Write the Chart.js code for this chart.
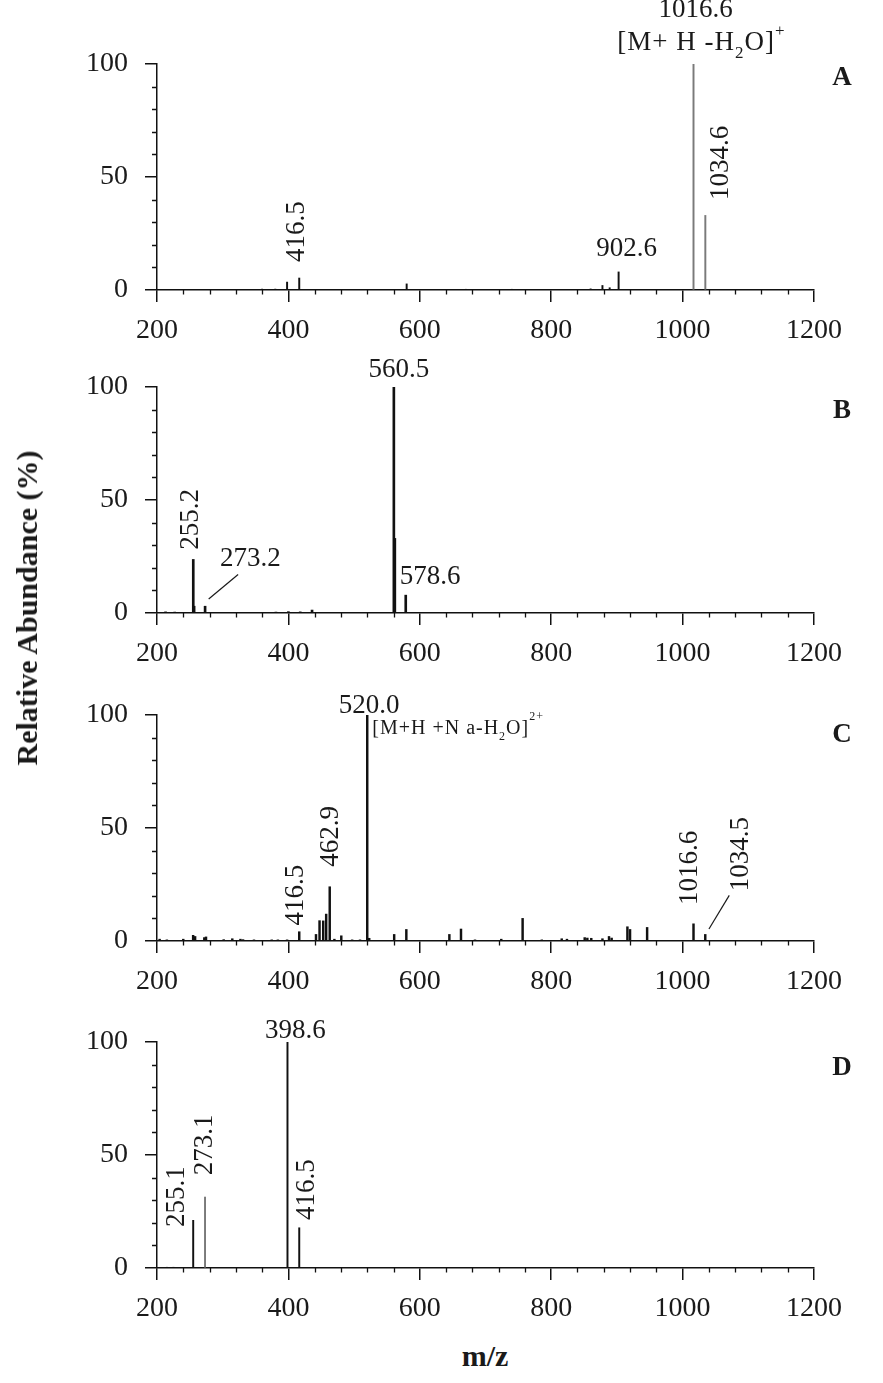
<!DOCTYPE html>
<html>
<head>
<meta charset="utf-8">
<script src="https://cdn.jsdelivr.net/npm/chart.js@4.4.1/dist/chart.umd.min.js"></script>
<style>
body { margin: 0; background: #fff; }
#wrap { position: relative; width: 883px; height: 1383px; overflow: hidden; }
#wrap canvas { position: absolute; left: 0; }
.ttl { position: absolute; font-family: 'Liberation Serif', serif; font-weight: bold; font-size: 30px; color: #1a1a1a; white-space: nowrap; transform: translate(-50%, -50%); }
</style>
</head>
<body>
<div id="wrap">
  <canvas id="cA" width="883" height="350" style="top:0px"></canvas>
  <canvas id="cB" width="883" height="350" style="top:323px"></canvas>
  <canvas id="cC" width="883" height="350" style="top:651px"></canvas>
  <canvas id="cD" width="883" height="350" style="top:978px"></canvas>
  <div class="ttl" style="left:27px; top:608px; transform:translate(-50%,-50%) rotate(-90deg)">Relative Abundance (%)</div>
  <div class="ttl" style="left:485px; top:1356px">m/z</div>
</div>
<script>
// Tick labels
const xTicks = [200, 400, 600, 800, 1000, 1200];
const yTicks = [0, 50, 100];
const panelNames = ['A', 'B', 'C', 'D'];

// Panel A - m/z and relative abundance (%)
const mzA = [360, 380, 398, 416.5, 580, 670, 740, 860, 878, 889, 902.6, 1016.6, 1034.6];
const abA = [0.4, 0.4, 3.5, 5.3, 2.7, 0.3, 0.3, 0.5, 2, 1, 8, 100, 33];

// Panel B
const mzB = [213, 227, 255.2, 256.5, 273.2, 381, 400, 418, 436, 560.5, 562, 578.6];
const abB = [0.5, 0.4, 23.7, 3, 3, 0.4, 0.6, 0.5, 1.3, 100, 33, 7.9];

// Panel C
const mzC = [204, 215, 240, 255, 258, 272, 274.6, 301.5, 314.6, 327, 331, 347.6, 374.6, 384, 398,
  416.5, 442, 447.4, 453, 457.5, 462.9, 470, 480.5, 497, 509, 520.0, 523, 561, 579.5, 645, 662.7,
  684, 724, 756.5, 785.7, 816, 824, 851, 855, 861, 878, 888, 892, 916, 920, 946, 1016.6, 1034.5];
const abC = [0.8, 0.5, 0.8, 2.5, 2, 1.5, 1.8, 0.6, 1, 0.8, 0.6, 0.5, 0.5, 0.5, 0.5,
  4.1, 2.9, 9, 8.9, 11.9, 24, 0.8, 2.3, 0.5, 0.5, 100, 1.2, 2.9, 5.1, 2.9, 5.3,
  0.5, 0.8, 10, 0.5, 1, 0.8, 1.5, 1.3, 1.2, 1, 2, 1.3, 6.3, 5.1, 6, 7.6, 2.9];

// Panel D
const mzD = [215, 225, 255.1, 273.1, 398.6, 416.5];
const abD = [0.3, 0.3, 21.1, 31.4, 100, 17.8];

const FONT = "'Liberation Serif', serif";
const INK = '#1a1a1a';

// labels next to peaks (at = abundance of text anchor, dx = pixel nudge)
const panels = [
  { id: 'cA', mz: mzA, ab: abA, bar: 1.3, gray: [1016.6, 1034.6], letterOff: 21,
    notes: [
      { mz: 1016.6, at: 120.8, dx: 2 },
      { mz: 1016.6, at: 106.2, dx: 8, rich: [{ t: '[M+ H -H' }, { t: '2', dy: 0.3 }, { t: 'O]' }, { t: '+', dy: -0.5 }], size: 27, spacing: 1 },
      { mz: 1034.6, at: 39.8, dx: 16, rot: true },
      { mz: 416.5, at: 12.4, dx: -2, rot: true },
      { mz: 902.6, at: 15, dx: 8 }
    ], leaders: [] },
  { id: 'cB', mz: mzB, ab: abB, bar: 2, gray: [], letterOff: 31,
    notes: [
      { mz: 560.5, at: 104.5, dx: 5 },
      { mz: 255.2, at: 28, dx: -2, rot: true },
      { mz: 273.2, at: 20.8, dx: 15, align: 'left' },
      { mz: 578.6, at: 12.9, dx: -6, align: 'left' }
    ],
    leaders: [{ mz: 273.2, x0: 3.6, y0: 6.2, x1: 33, y1: 17 }] },
  { id: 'cC', mz: mzC, ab: abC, bar: 1.8, gray: [], letterOff: 27,
    notes: [
      { mz: 520.0, at: 101, dx: 2 },
      { mz: 520.0, at: 91.5, dx: 5, align: 'left', rich: [{ t: '[M+H +N a-H' }, { t: '2', dy: 0.3 }, { t: 'O]' }, { t: '2+', dy: -0.7 }], size: 20, spacing: 1 },
      { mz: 416.5, at: 6.9, dx: -3, rot: true },
      { mz: 462.9, at: 32.8, dx: 1, rot: true },
      { mz: 1016.6, at: 15.9, dx: -4, rot: true },
      { mz: 1034.5, at: 22, dx: 36, rot: true }
    ],
    leaders: [{ mz: 1034.5, x0: 3.7, y0: 5.3, x1: 24, y1: 20.2 }] },
  { id: 'cD', mz: mzD, ab: abD, bar: 1.3, gray: [273.1], letterOff: 33,
    notes: [
      { mz: 398.6, at: 101.6, dx: 8 },
      { mz: 255.1, at: 18.1, dx: -16, rot: true },
      { mz: 273.1, at: 41, dx: 0, rot: true },
      { mz: 416.5, at: 21.2, dx: 8, rot: true }
    ], leaders: [] }
];

function drawRich(ctx, segs, x, y, size, align, spacing) {
  ctx.letterSpacing = (spacing || 0) + 'px';
  const parts = segs.map(s => {
    const fs = s.dy ? Math.round(size * 0.62) : size;
    ctx.font = fs + 'px ' + FONT;
    return { t: s.t, fs: fs, w: ctx.measureText(s.t).width, dy: (s.dy || 0) * size };
  });
  const total = parts.reduce((a, p) => a + p.w, 0);
  let cx = align === 'left' ? x : x - total / 2;
  ctx.textAlign = 'left';
  ctx.textBaseline = 'alphabetic';
  parts.forEach(p => {
    ctx.font = p.fs + 'px ' + FONT;
    ctx.fillText(p.t, cx, y + p.dy);
    cx += p.w;
  });
  ctx.letterSpacing = '0px';
}

function makePlugin(p, letter) {
  return {
    id: 'spectrumDeco',
    afterDraw(chart) {
      const ctx = chart.ctx;
      const xs = chart.scales.x, ys = chart.scales.y;
      const area = chart.chartArea;
      ctx.save();
      // minor ticks
      ctx.strokeStyle = '#111';
      ctx.lineWidth = 1.3;
      ctx.beginPath();
      for (let v = 240; v < 1200; v += 40) {
        if (v % 200 === 0) continue;
        const px = Math.round(xs.getPixelForValue(v)) + 0.5;
        ctx.moveTo(px, area.bottom);
        ctx.lineTo(px, area.bottom + 4.5);
      }
      for (let v = 10; v < 100; v += 10) {
        if (v % 50 === 0) continue;
        const py = Math.round(ys.getPixelForValue(v)) + 0.5;
        ctx.moveTo(area.left - 5, py);
        ctx.lineTo(area.left, py);
      }
      ctx.stroke();

      // peak labels
      ctx.fillStyle = INK;
      p.notes.forEach(n => {
        const x = xs.getPixelForValue(n.mz) + n.dx;
        const y = ys.getPixelForValue(n.at);
        if (n.rich) {
          drawRich(ctx, n.rich, x, y, n.size, n.align, n.spacing);
          return;
        }
        const txt = n.mz.toFixed(1);
        ctx.font = '27px ' + FONT;
        if (n.rot) {
          ctx.save();
          ctx.translate(x, y);
          ctx.rotate(-Math.PI / 2);
          ctx.textAlign = 'left';
          ctx.textBaseline = 'middle';
          ctx.fillText(txt, 0, 0);
          ctx.restore();
        } else {
          ctx.textAlign = n.align || 'center';
          ctx.textBaseline = 'alphabetic';
          ctx.fillText(txt, x, y);
        }
      });

      // leader lines
      ctx.strokeStyle = INK;
      ctx.lineWidth = 1.2;
      p.leaders.forEach(l => {
        const bx = xs.getPixelForValue(l.mz);
        ctx.beginPath();
        ctx.moveTo(bx + l.x0, ys.getPixelForValue(l.y0));
        ctx.lineTo(bx + l.x1, ys.getPixelForValue(l.y1));
        ctx.stroke();
      });

      // panel letter
      ctx.font = 'bold 27px ' + FONT;
      ctx.textAlign = 'center';
      ctx.textBaseline = 'alphabetic';
      ctx.fillText(letter, 842, area.top + p.letterOff);
      ctx.restore();
    }
  };
}

panels.forEach((p, i) => {
  const canvas = document.getElementById(p.id);
  new Chart(canvas, {
    type: 'bar',
    data: {
      datasets: [{
        data: p.mz.map((m, k) => ({ x: m, y: p.ab[k] })),
        backgroundColor: c => (c.raw && p.gray.includes(c.raw.x)) ? '#7a7a7a' : '#111',
        borderWidth: 0,
        barThickness: p.bar
      }]
    },
    options: {
      responsive: false,
      animation: false,
      devicePixelRatio: 1,
      events: [],
      layout: { padding: { left: 0, right: 69, top: 64, bottom: 0 } },
      plugins: { legend: { display: false }, tooltip: { enabled: false } },
      scales: {
        x: {
          type: 'linear', min: 200, max: 1200, offset: false,
          afterBuildTicks: s => { s.ticks = xTicks.map(v => ({ value: v })); },
          afterFit: s => { s.height = 60; },
          grid: { display: true, offset: false, drawOnChartArea: false, drawTicks: true, tickLength: 12, color: '#111', lineWidth: 1.5 },
          border: { display: true, color: '#111', width: 1.5 },
          ticks: { color: INK, font: { family: FONT, size: 28 }, padding: 12, maxRotation: 0, autoSkip: false,
            callback: v => String(v) }
        },
        y: {
          min: 0, max: 100,
          afterBuildTicks: s => { s.ticks = yTicks.map(v => ({ value: v })); },
          afterFit: s => { s.width = 157; },
          grid: { display: true, drawOnChartArea: false, drawTicks: true, tickLength: 12, color: '#111', lineWidth: 1.5 },
          border: { display: true, color: '#111', width: 1.5 },
          ticks: { color: INK, font: { family: FONT, size: 28 }, padding: 17, callback: v => String(v) }
        }
      }
    },
    plugins: [makePlugin(p, panelNames[i])]
  });
});
</script>
</body>
</html>
